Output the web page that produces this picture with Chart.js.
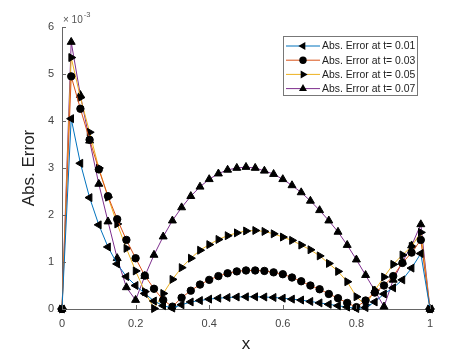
<!DOCTYPE html>
<html>
<head>
<meta charset="utf-8">
<script src="https://cdn.jsdelivr.net/npm/chart.js@4/dist/chart.umd.min.js"></script>
<style>
  html, body { margin: 0; padding: 0; background: #fff; }
  #wrap { width: 474px; height: 355px; }
</style>
</head>
<body>
<div id="wrap"><canvas id="c" width="474" height="355"></canvas></div>
<script>
// x positions (41 nodes, step 0.025)
const xs = [0, 0.025, 0.05, 0.075, 0.1, 0.125, 0.15, 0.175, 0.2, 0.225,
  0.25, 0.275, 0.3, 0.325, 0.35, 0.375, 0.4, 0.425, 0.45, 0.475,
  0.5, 0.525, 0.55, 0.575, 0.6, 0.625, 0.65, 0.675, 0.7, 0.725,
  0.75, 0.775, 0.8, 0.825, 0.85, 0.875, 0.9, 0.925, 0.95, 0.975, 1];

// absolute error, units of 1e-3
const err001 = [0, 4.05, 3.1, 2.37, 1.79, 1.32, 0.96, 0.69, 0.5, 0.33,
  0.17, 0.07, 0.02, 0.09, 0.15, 0.18, 0.21, 0.23, 0.245, 0.255,
  0.26, 0.26, 0.255, 0.245, 0.23, 0.21, 0.19, 0.16, 0.13, 0.1,
  0.07, 0.04, 0.01, 0.03, 0.15, 0.32, 0.45, 0.62, 0.87, 1.18, 0];
const err003 = [0, 4.95, 4.26, 3.6, 2.97, 2.4, 1.91, 1.47, 1.08, 0.71,
  0.43, 0.19, 0.05, 0.24, 0.39, 0.52, 0.62, 0.7, 0.76, 0.8,
  0.82, 0.82, 0.81, 0.78, 0.74, 0.67, 0.59, 0.5, 0.42, 0.32,
  0.23, 0.13, 0.04, 0.18, 0.35, 0.5, 0.7, 0.98, 1.2, 1.47, 0];
const err005 = [0, 5.35, 4.5, 3.76, 3.0, 2.38, 1.81, 1.29, 0.81, 0.37,
  0.01, 0.33, 0.63, 0.88, 1.08, 1.25, 1.37, 1.48, 1.56, 1.62,
  1.66, 1.67, 1.65, 1.6, 1.53, 1.46, 1.36, 1.26, 1.13, 0.97,
  0.8, 0.58, 0.26, 0.08, 0.4, 0.68, 0.95, 1.15, 1.33, 1.63, 0];
const err007 = [0, 5.68, 4.55, 3.58, 2.66, 1.86, 1.08, 0.46, 0.19, 0.7,
  1.15, 1.54, 1.88, 2.16, 2.4, 2.6, 2.76, 2.88, 2.96, 3.0,
  3.02, 3.0, 2.94, 2.87, 2.76, 2.63, 2.48, 2.3, 2.1, 1.88,
  1.64, 1.36, 1.05, 0.72, 0.39, 0.05, 0.62, 1.0, 1.35, 1.8, 0];

const seriesLabels = ["Abs. Error at t= 0.01", "Abs. Error at t= 0.03",
  "Abs. Error at t= 0.05", "Abs. Error at t= 0.07"];
const xTicks = [0, 0.2, 0.4, 0.6, 0.8, 1];
const yTicks = [0, 1, 2, 3, 4, 5, 6];

const FONT = "'Liberation Sans', Arial, sans-serif";

function pts(arr) {
  return arr.map((v, i) => ({ x: xs[i], y: v }));
}

function makeSet(label, arr, color, style, rot, r) {
  return {
    label,
    data: pts(arr),
    borderColor: color,
    borderWidth: 1,
    backgroundColor: "#000",
    pointBackgroundColor: "#000",
    pointBorderColor: "#000",
    pointBorderWidth: 1,
    pointStyle: style,
    rotation: rot,
    pointRadius: r,
    tension: 0,
    clip: false
  };
}

// marker for the legend
function marker(ctx, style, rot, r, x, y) {
  ctx.save();
  ctx.fillStyle = "#000";
  ctx.beginPath();
  if (style === "circle") {
    ctx.arc(x, y, r, 0, Math.PI * 2);
  } else {
    let a = rot * Math.PI / 180;
    for (let k = 0; k < 3; k++) {
      const px = x + Math.sin(a) * r, py = y - Math.cos(a) * r;
      k ? ctx.lineTo(px, py) : ctx.moveTo(px, py);
      a += 2 * Math.PI / 3;
    }
    ctx.closePath();
  }
  ctx.fill();
  ctx.restore();
}

const extras = {
  id: "extras",
  afterDraw(chart) {
    const ctx = chart.ctx;
    const xs_ = chart.scales.x, ys_ = chart.scales.y;
    const a = chart.chartArea;

    // inward ticks
    ctx.save();
    ctx.strokeStyle = "#666";
    ctx.lineWidth = 1;
    ctx.beginPath();
    xTicks.forEach(t => {
      const px = Math.round(xs_.getPixelForValue(t)) + 0.5;
      ctx.moveTo(px, a.bottom); ctx.lineTo(px, a.bottom - 4);
    });
    yTicks.forEach(t => {
      const py = Math.round(ys_.getPixelForValue(t)) + 0.5;
      ctx.moveTo(a.left, py); ctx.lineTo(a.left + 4, py);
    });
    ctx.stroke();

    // exponent label
    ctx.fillStyle = "#555";
    ctx.textBaseline = "alphabetic";
    ctx.textAlign = "left";
    ctx.font = "10px " + FONT;
    ctx.fillText("\u00d7 10", a.left + 1, 23);
    const w = ctx.measureText("\u00d7 10").width;
    ctx.font = "7.5px " + FONT;
    ctx.fillText("-3", a.left + 2 + w, 17);

    // legend box
    const bx = 283.5, by = 36.5, bw = 134, bh = 59;
    ctx.fillStyle = "#fff";
    ctx.fillRect(bx, by, bw, bh);
    ctx.strokeStyle = "#777";
    ctx.strokeRect(bx, by, bw, bh);
    chart.data.datasets.forEach((ds, i) => {
      const cy = 46 + i * 14.2;
      ctx.strokeStyle = ds.borderColor;
      ctx.lineWidth = 1;
      ctx.beginPath();
      ctx.moveTo(286, cy); ctx.lineTo(320, cy);
      ctx.stroke();
      marker(ctx, ds.pointStyle, ds.rotation, ds.pointRadius, 303, cy);
      ctx.fillStyle = "#222";
      ctx.font = "10.4px " + FONT;
      ctx.textBaseline = "middle";
      ctx.fillText(ds.label, 322, cy + 0.5);
    });
    ctx.restore();
  }
};

new Chart(document.getElementById("c"), {
  type: "line",
  data: {
    datasets: [
      makeSet(seriesLabels[0], err001, "#0072BD", "triangle", -90, 4.6),
      makeSet(seriesLabels[1], err003, "#D95319", "circle", 0, 3.7),
      makeSet(seriesLabels[2], err005, "#EDB120", "triangle", 90, 4.6),
      makeSet(seriesLabels[3], err007, "#7E2F8E", "triangle", 0, 4.6)
    ]
  },
  options: {
    responsive: false,
    animation: false,
    layout: { padding: { top: 27, right: 44, left: 0, bottom: 0 } },
    plugins: { legend: { display: false }, tooltip: { enabled: false } },
    scales: {
      x: {
        type: "linear",
        min: 0, max: 1,
        afterFit: s => { s.height = 46; },
        afterBuildTicks: s => { s.ticks = xTicks.map(v => ({ value: v })); },
        ticks: {
          color: "#444", font: { family: FONT, size: 11 }, padding: 8, maxRotation: 0,
          callback: v => String(Math.round(v * 10) / 10)
        },
        grid: { drawOnChartArea: false, drawTicks: false },
        border: { color: "#666" },
        title: { display: true, text: "x", color: "#222", font: { family: FONT, size: 17 }, padding: { top: 0, bottom: 0 } }
      },
      y: {
        min: 0, max: 6,
        afterFit: s => { s.width = 62; },
        afterBuildTicks: s => { s.ticks = yTicks.map(v => ({ value: v })); },
        ticks: { color: "#444", font: { family: FONT, size: 11 }, padding: 8, callback: v => String(v) },
        grid: { drawOnChartArea: false, drawTicks: false },
        border: { color: "#666" },
        title: { display: true, text: "Abs. Error", color: "#222", font: { family: FONT, size: 17 }, padding: { top: 19, bottom: 0 } }
      }
    }
  },
  plugins: [extras]
});
</script>
</body>
</html>
